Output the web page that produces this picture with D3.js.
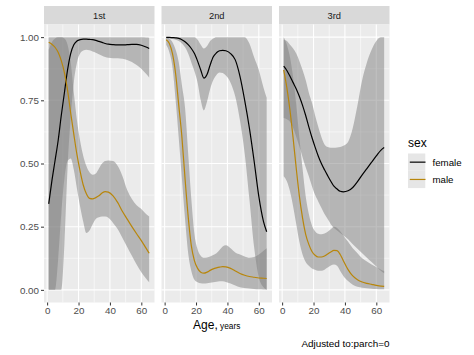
<!DOCTYPE html>
<html>
<head>
<meta charset="utf-8">
<script src="https://cdn.jsdelivr.net/npm/d3@7"></script>
<style>
  html, body { margin: 0; padding: 0; background: #ffffff; }
  svg { display: block; font-family: "Liberation Sans", Arial, Helvetica, sans-serif; }
</style>
</head>
<body>
<svg id="chart" width="474" height="355"></svg>
<script>
// ---------------- DATA ----------------
const panels = ["1st", "2nd", "3rd"];
const sexes = ["female", "male"];
const ages = [1, 3, 5, 7, 9, 11, 13, 15, 17, 19, 21, 23, 25, 27, 29, 31, 33, 35, 37, 39, 42, 45, 48, 51, 54, 57, 60, 63, 65];
const xTicks = [0, 20, 40, 60];
const yTicks = [0, 0.25, 0.5, 0.75, 1];
const yTickLabels = ["0.00", "0.25", "0.50", "0.75", "1.00"];

// 1st class
const fit1F = [0.34, 0.43, 0.51, 0.59, 0.69, 0.78, 0.87, 0.935, 0.97, 0.985, 0.99, 0.992, 0.992, 0.991, 0.99, 0.987, 0.983, 0.979, 0.975, 0.972, 0.97, 0.969, 0.969, 0.97, 0.971, 0.971, 0.968, 0.961, 0.955];
const lo1F  = [0, 0, 0, 0, 0, 0.18, 0.48, 0.68, 0.82, 0.9, 0.935, 0.947, 0.95, 0.948, 0.943, 0.938, 0.932, 0.926, 0.921, 0.918, 0.916, 0.916, 0.914, 0.91, 0.902, 0.89, 0.875, 0.855, 0.84];
const hi1F  = [0.95, 0.98, 0.995, 1, 1, 1, 1, 1, 1, 1, 1, 1, 1, 1, 1, 1, 1, 1, 1, 1, 1, 1, 1, 1, 1, 1, 1, 0.999, 0.998];
const fit1M = [0.98, 0.972, 0.96, 0.94, 0.907, 0.86, 0.79, 0.7, 0.615, 0.535, 0.47, 0.415, 0.38, 0.362, 0.36, 0.365, 0.372, 0.383, 0.389, 0.387, 0.372, 0.345, 0.31, 0.28, 0.25, 0.222, 0.195, 0.165, 0.145];
const lo1M  = [0, 0, 0, 0.12, 0.3, 0.44, 0.51, 0.52, 0.475, 0.4, 0.33, 0.27, 0.225, 0.235, 0.26, 0.28, 0.287, 0.29, 0.29, 0.285, 0.265, 0.24, 0.205, 0.17, 0.135, 0.1, 0.07, 0.045, 0.03];
const hi1M  = [1, 1, 1, 1, 1, 0.995, 0.97, 0.9, 0.78, 0.67, 0.59, 0.53, 0.49, 0.465, 0.455, 0.46, 0.48, 0.5, 0.51, 0.512, 0.51, 0.49, 0.45, 0.395, 0.36, 0.335, 0.32, 0.3, 0.29];

// 2nd class
const fit2F = [0.999, 0.999, 0.998, 0.997, 0.995, 0.99, 0.982, 0.97, 0.955, 0.935, 0.905, 0.87, 0.838, 0.852, 0.89, 0.922, 0.938, 0.946, 0.948, 0.946, 0.935, 0.91, 0.845, 0.75, 0.64, 0.51, 0.37, 0.27, 0.23];
const lo2F  = [0.995, 0.995, 0.993, 0.99, 0.985, 0.975, 0.96, 0.935, 0.9, 0.865, 0.82, 0.75, 0.71, 0.745, 0.795, 0.83, 0.85, 0.86, 0.858, 0.848, 0.82, 0.765, 0.67, 0.54, 0.36, 0.17, 0.05, 0.01, 0];
const hi2F  = [1, 1, 1, 1, 1, 1, 1, 1, 1, 1, 0.99, 0.97, 0.955, 0.965, 0.985, 0.995, 1, 1, 1, 1, 1, 1, 1, 1, 0.975, 0.92, 0.87, 0.8, 0.76];
const fit2M = [0.99, 0.975, 0.935, 0.855, 0.73, 0.605, 0.44, 0.29, 0.175, 0.115, 0.085, 0.07, 0.066, 0.07, 0.077, 0.083, 0.087, 0.09, 0.092, 0.091, 0.085, 0.075, 0.065, 0.058, 0.053, 0.05, 0.047, 0.046, 0.045];
const lo2M  = [0.97, 0.94, 0.88, 0.75, 0.6, 0.44, 0.28, 0.145, 0.075, 0.04, 0.03, 0.026, 0.025, 0.026, 0.028, 0.03, 0.032, 0.034, 0.034, 0.031, 0.025, 0.017, 0.01, 0.007, 0.005, 0.003, 0.002, 0.001, 0];
const hi2M  = [1, 0.995, 0.98, 0.95, 0.9, 0.81, 0.72, 0.54, 0.36, 0.22, 0.16, 0.135, 0.127, 0.128, 0.132, 0.138, 0.145, 0.158, 0.172, 0.177, 0.165, 0.148, 0.14, 0.132, 0.127, 0.13, 0.14, 0.155, 0.165];

// 3rd class
const fit3F = [0.885, 0.868, 0.845, 0.82, 0.795, 0.765, 0.73, 0.69, 0.645, 0.603, 0.565, 0.53, 0.5, 0.475, 0.452, 0.43, 0.41, 0.399, 0.39, 0.388, 0.392, 0.405, 0.428, 0.455, 0.48, 0.505, 0.53, 0.553, 0.563];
const lo3F  = [0.68, 0.675, 0.665, 0.64, 0.605, 0.567, 0.525, 0.485, 0.45, 0.41, 0.375, 0.35, 0.325, 0.3, 0.28, 0.26, 0.245, 0.235, 0.225, 0.215, 0.2, 0.18, 0.163, 0.145, 0.127, 0.11, 0.092, 0.075, 0.066];
const hi3F  = [0.99, 0.985, 0.97, 0.955, 0.935, 0.905, 0.87, 0.83, 0.78, 0.74, 0.69, 0.645, 0.605, 0.575, 0.565, 0.562, 0.562, 0.563, 0.565, 0.57, 0.585, 0.64, 0.73, 0.83, 0.9, 0.95, 0.985, 1, 1];
const fit3M = [0.87, 0.8, 0.71, 0.6, 0.48, 0.37, 0.285, 0.22, 0.18, 0.152, 0.137, 0.13, 0.13, 0.134, 0.142, 0.15, 0.156, 0.155, 0.14, 0.115, 0.08, 0.055, 0.04, 0.031, 0.026, 0.022, 0.018, 0.015, 0.014];
const lo3M  = [0.45, 0.43, 0.39, 0.33, 0.26, 0.19, 0.14, 0.11, 0.095, 0.085, 0.08, 0.076, 0.076, 0.08, 0.088, 0.096, 0.1, 0.095, 0.075, 0.055, 0.035, 0.02, 0.012, 0.008, 0.006, 0.004, 0.003, 0.002, 0.002];
const hi3M  = [1, 0.97, 0.92, 0.84, 0.73, 0.6, 0.48, 0.37, 0.3, 0.255, 0.232, 0.222, 0.22, 0.223, 0.23, 0.24, 0.25, 0.245, 0.232, 0.215, 0.19, 0.165, 0.145, 0.125, 0.112, 0.1, 0.09, 0.08, 0.075];

const xLabel = "Age,";
const xLabelUnits = "years";
const legendTitle = "sex";
const caption = "Adjusted to:parch=0";

const seriesTable = {
  "1st": { female: [fit1F, lo1F, hi1F], male: [fit1M, lo1M, hi1M] },
  "2nd": { female: [fit2F, lo2F, hi2F], male: [fit2M, lo2M, hi2M] },
  "3rd": { female: [fit3F, lo3F, hi3F], male: [fit3M, lo3M, hi3M] }
};

// ---------------- LAYOUT ----------------
const svg = d3.select("#chart");
const W = 474, H = 355;
svg.append("rect").attr("width", W).attr("height", H).attr("fill", "#ffffff");

const panelLeft0 = 44, panelW = 110.5, panelGap = 7;
const panelTop = 24.5, panelBottom = 302.5;
const stripTop = 6;
const color = d3.scaleOrdinal().domain(sexes).range(["#000000", "#B8860B"]);

const ageExtent = [1.2, 65.2];
const expX = (ageExtent[1] - ageExtent[0]) * 0.05;
const yExt = [0, 1];
const expY = (yExt[1] - yExt[0]) * 0.05;

const y = d3.scaleLinear().domain([yExt[0] - expY, yExt[1] + expY]).range([panelBottom, panelTop]);

panels.forEach((p, i) => {
  const left = panelLeft0 + i * (panelW + panelGap);
  const x = d3.scaleLinear()
    .domain([ageExtent[0] - expX, ageExtent[1] + expX])
    .range([left, left + panelW]);

  const g = svg.append("g");
  // strip
  g.append("rect").attr("x", left).attr("y", stripTop).attr("width", panelW)
    .attr("height", panelTop - stripTop).attr("fill", "#D9D9D9");
  g.append("text").attr("x", left + panelW / 2).attr("y", (stripTop + panelTop) / 2 + 3.3)
    .attr("text-anchor", "middle").attr("font-size", 9.3).attr("fill", "#1A1A1A").text(p);

  // panel background
  g.append("rect").attr("x", left).attr("y", panelTop).attr("width", panelW)
    .attr("height", panelBottom - panelTop).attr("fill", "#EBEBEB");

  // minor grid
  const xMinor = [10, 30, 50];
  const yMinor = [0.125, 0.375, 0.625, 0.875];
  xMinor.forEach(v => g.append("line").attr("x1", x(v)).attr("x2", x(v))
    .attr("y1", panelTop).attr("y2", panelBottom).attr("stroke", "#ffffff").attr("stroke-width", 0.55));
  yMinor.forEach(v => g.append("line").attr("x1", left).attr("x2", left + panelW)
    .attr("y1", y(v)).attr("y2", y(v)).attr("stroke", "#ffffff").attr("stroke-width", 0.55));
  // major grid
  xTicks.forEach(v => g.append("line").attr("x1", x(v)).attr("x2", x(v))
    .attr("y1", panelTop).attr("y2", panelBottom).attr("stroke", "#ffffff").attr("stroke-width", 1.1));
  yTicks.forEach(v => g.append("line").attr("x1", left).attr("x2", left + panelW)
    .attr("y1", y(v)).attr("y2", y(v)).attr("stroke", "#ffffff").attr("stroke-width", 1.1));

  // clip
  const clipId = "clip" + i;
  svg.append("clipPath").attr("id", clipId).append("rect")
    .attr("x", left).attr("y", panelTop).attr("width", panelW).attr("height", panelBottom - panelTop);
  const plot = g.append("g").attr("clip-path", `url(#${clipId})`);

  // ribbons
  sexes.forEach(s => {
    const [fit, lo, hi] = seriesTable[p][s];
    const rows = ages.map((a, k) => ({ a, fit: fit[k], lo: lo[k], hi: hi[k] }));
    const area = d3.area().curve(d3.curveMonotoneX)
      .x(d => x(d.a)).y0(d => y(d.lo)).y1(d => y(d.hi));
    plot.append("path").datum(rows).attr("d", area)
      .attr("fill", "#7F7F7F").attr("fill-opacity", 0.5).attr("stroke", "none");
  });
  // lines
  sexes.forEach(s => {
    const [fit] = seriesTable[p][s];
    const rows = ages.map((a, k) => ({ a, fit: fit[k] }));
    const line = d3.line().curve(d3.curveMonotoneX).x(d => x(d.a)).y(d => y(d.fit));
    plot.append("path").datum(rows).attr("d", line)
      .attr("fill", "none").attr("stroke", color(s)).attr("stroke-width", 1.2);
  });

  // x axis
  const xAxis = d3.axisBottom(x).tickValues(xTicks).tickSize(3).tickPadding(2).tickFormat(d3.format("d"));
  const gx = svg.append("g").attr("transform", `translate(0,${panelBottom})`).call(xAxis);
  gx.select(".domain").remove();
  gx.selectAll(".tick line").attr("stroke", "#333333").attr("stroke-width", 1);
  gx.selectAll(".tick text").attr("fill", "#4D4D4D").attr("font-size", 9.8)
    .attr("font-family", "Liberation Sans, Arial, sans-serif");

  if (i === 0) {
    const yAxis = d3.axisLeft(y).tickValues(yTicks).tickSize(3).tickPadding(2)
      .tickFormat((d, k) => yTickLabels[k]);
    const gy = svg.append("g").attr("transform", `translate(${left},0)`).call(yAxis);
    gy.select(".domain").remove();
    gy.selectAll(".tick line").attr("stroke", "#333333").attr("stroke-width", 1);
    gy.selectAll(".tick text").attr("fill", "#4D4D4D").attr("font-size", 9.8)
      .attr("font-family", "Liberation Sans, Arial, sans-serif");
  }
});

// axis title
const panelsRight = panelLeft0 + 3 * panelW + 2 * panelGap;
const xt = svg.append("text").attr("x", (panelLeft0 + panelsRight) / 2).attr("y", 329.3)
  .attr("text-anchor", "middle").attr("fill", "#000000");
xt.append("tspan").attr("font-size", 12).text(xLabel);
xt.append("tspan").attr("font-size", 8.3).text(" " + xLabelUnits);

// legend
const lg = svg.append("g");
lg.append("text").attr("x", 408).attr("y", 146.5).attr("font-size", 12).attr("fill", "#000000").text(legendTitle);
sexes.forEach((s, k) => {
  const ky = 153.5 + k * 17.3;
  lg.append("rect").attr("x", 408).attr("y", ky).attr("width", 17.3).attr("height", 17.3).attr("fill", "#E6E6E6");
  lg.append("line").attr("x1", 409.8).attr("x2", 425.5).attr("y1", ky + 8.65).attr("y2", ky + 8.65)
    .attr("stroke", color(s)).attr("stroke-width", 1.2);
  lg.append("text").attr("x", 432.5).attr("y", ky + 12.2).attr("font-size", 9.7).attr("fill", "#000000").text(s);
});

// caption
svg.append("text").attr("x", panelsRight).attr("y", 347).attr("text-anchor", "end")
  .attr("font-size", 9.9).attr("fill", "#000000").text(caption);
</script>
</body>
</html>
